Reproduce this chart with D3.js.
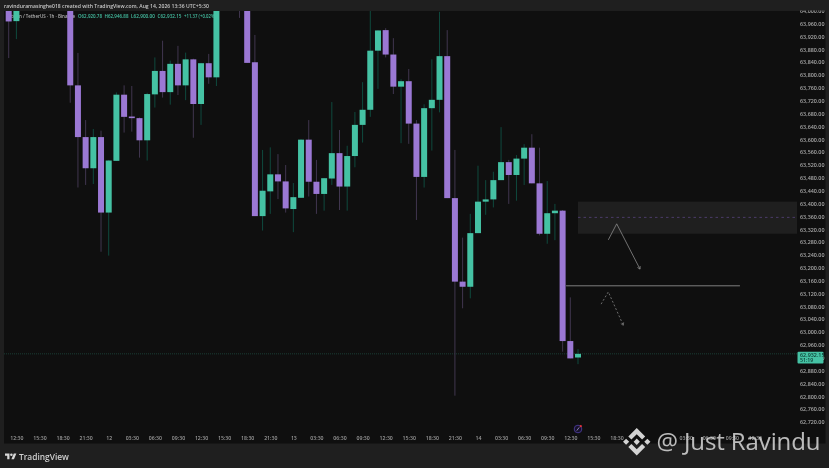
<!DOCTYPE html>
<html><head><meta charset="utf-8">
<script src="https://cdn.jsdelivr.net/npm/d3@7"></script>
<style>html,body{margin:0;padding:0;background:#1f1f1f}svg{display:block;filter:blur(.25px)}text{font-family:"Open Sans","Noto Sans",sans-serif}</style>
</head><body><div id="c"></div>
<script>
const slots=[0,1,8,9,10,11,12,13,14,15,16,17,18,19,20,21,22,23,24,25,26,27,30,31,32,33,34,35,36,37,38,39,40,41,42,43,44,45,46,47,48,49,50,51,52,53,54,55,56,57,58,59,60,61,62,63,64,65,66,67,68,69,70,71,72,73,74];
const opens=[64030,63968,64100,63768,63607,63510,63607,63372,63533,63739,63671,63666,63597,63740,63813,63747,63835,63768,63849,63710,63837,63793,64080,64080,63840,63361,63438,63491,63469,63383,63418,63599,63468,63430,63478,63557,63453,63548,63645,63692,63876,63940,63864,63764,63781,63649,63483,63697,63723,63859,63417,63157,63141,63308,63406,63413,63473,63529,63489,63540,63574,63463,63306,63370,63378,62972,62920.78];
const highs=[64060,64050,64150,63869,63660,63632,63627,63536,63746,63768,63766,63668,63745,63855,63907,63845,63891,63870,63851,63838,63866,64100,64120,64100,63925,63567,63575,63554,63520,63464,63600,63660,63536,63480,63716,63629,63580,63685,63778,64001,63940,63946,63915,63787,63819,63660,63709,63849,63997,63940,63567,63294,63368,63518,63473,63499,63638,63536,63551,63585,63616,63574,63470,63399,63380,63108,62946.88];
const lows=[63853,63912,63714,63450,63458,63461,63250,63238,63533,63621,63624,63543,63534,63699,63730,63708,63738,63722,63605,63645,63773,63766,63978,63838,63361,63316,63368,63414,63372,63311,63418,63422,63368,63378,63458,63380,63378,63513,63590,63670,63757,63855,63741,63588,63586,63349,63450,63565,63684,63417,62802,63074,63105,63308,63365,63388,63473,63399,63409,63458,63463,63301,63275,63286,62939,62918,62900];
const closes=[63967,64030,63768,63607,63510,63607,63372,63534,63739,63670,63666,63597,63741,63813,63747,63835,63768,63849,63710,63837,63793,64060,64040,63838,63361,63440,63491,63469,63385,63420,63599,63468,63430,63479,63557,63453,63548,63645,63692,63876,63939,63864,63764,63781,63649,63483,63697,63723,63859,63417,63157,63141,63308,63406,63413,63473,63529,63489,63540,63574,63463,63306,63370,63378,62972,62918,62932.15];
const priceTicks=d3.range(64000,62719,-40);
const timeSlots=[1,4,7,10,13,16,19,22,25,28,31,34,37,40,43,46,49,52,55,58,61,64,67,70,73,76,79,88,91,94,97];
const timeLabels=["12:30","15:30","18:30","21:30","12","03:30","06:30","09:30","12:30","15:30","18:30","21:30","13","03:30","06:30","09:30","12:30","15:30","18:30","21:30","14","03:30","06:30","09:30","12:30","15:30","18:30","03:30","06:30","09:30","12:30"];
const legendParts=["O62,920.78","H62,946.88","L62,900.00","C62,932.15","+11.37 (+0.02%)"];
const zoneSlots=[74,102.5], zonePrices=[63406,63306], zoneMid=63357;
const levelSlots=[72.45,95.05], levelPrice=63144;
const arrowSolid=[[77.94,63287],[79.03,63337],[82.06,63196]];
const arrowDashed=[[77,63087],[77.94,63125],[79.89,63021]];
const lastPrice=62932.15;

const W=829,H=468,bg="#1f1f1f",plot="#0f0f0f",up="#45c2a4",dn="#9b78d4",upW="#0f4a3e",dnW="#40364f";
const x=d3.scaleLinear().domain([0,74]).range([8.7,578]);
const y=d3.scaleLinear().domain([63960,62720]).range([23.7,422]);
const svg=d3.select("#c").append("svg").attr("width",W).attr("height",H);
svg.append("rect").attr("width",W).attr("height",H).attr("fill",bg);
svg.append("rect").attr("x",4).attr("y",11).attr("width",821.5).attr("height",432.5).attr("fill",plot);
const defs=svg.append("defs");
defs.append("clipPath").attr("id","cp").append("rect").attr("x",4).attr("y",11).attr("width",793).attr("height",418);

// legend
const lg=svg.append("g").attr("font-size",4.6).attr("font-weight",600);
lg.append("text").attr("x",7).attr("y",17.5).attr("fill","#b8b8b8").attr("textLength",68).attr("lengthAdjust","spacingAndGlyphs").text("Bitcoin / TetherUS · 1h · Binance");
const legendX=d3.scaleLinear().domain([0,4]).range([78,184]);
lg.selectAll(".p").data(legendParts).join("text").attr("class","p").attr("x",(d,i)=>legendX(i)).attr("y",17.5).attr("fill",up)
 .attr("textLength",(d,i)=>i<4?24:32).attr("lengthAdjust","spacingAndGlyphs").text(d=>d);

const g=svg.append("g").attr("clip-path","url(#cp)");
// drawings below candles
g.append("rect").attr("x",x(zoneSlots[0])).attr("width",x(zoneSlots[1])-x(zoneSlots[0]))
 .attr("y",y(zonePrices[0])).attr("height",y(zonePrices[1])-y(zonePrices[0])).attr("fill","#1f1f1f");
g.append("line").attr("x1",x(zoneSlots[0])).attr("x2",x(zoneSlots[1])).attr("y1",y(zoneMid)).attr("y2",y(zoneMid))
 .attr("stroke","#5d4788").attr("stroke-width",.7).attr("stroke-dasharray","2.5 3");
g.append("line").attr("x1",4).attr("x2",797).attr("y1",y(lastPrice)).attr("y2",y(lastPrice))
 .attr("stroke","#1d4a3f").attr("stroke-width",.8).attr("stroke-dasharray","1 1");
g.append("line").attr("x1",x(levelSlots[0])).attr("x2",x(levelSlots[1])).attr("y1",y(levelPrice)).attr("y2",y(levelPrice))
 .attr("stroke","#8a8a8a").attr("stroke-width",.9);
const ln=d3.line().x(d=>x(d[0])).y(d=>y(d[1]));
g.append("path").attr("d",ln(arrowSolid)).attr("fill","none").attr("stroke","#8a8a8a").attr("stroke-width",.8);
g.append("path").attr("d",ln(arrowDashed)).attr("fill","none").attr("stroke","#777").attr("stroke-width",.9).attr("stroke-dasharray","2 2");
function head(a,b,c){const p=[x(b[0]),y(b[1])],q=[x(a[0]),y(a[1])];const t=Math.atan2(q[1]-p[1],q[0]-p[0]);
 const l=3;const pts=[t+2.6,t-2.6].map(k=>[q[0]+l*Math.cos(k),q[1]+l*Math.sin(k)]);
 g.append("path").attr("d",`M${pts[0]}L${q}L${pts[1]}`).attr("fill","none").attr("stroke",c).attr("stroke-width",.8);}
head(arrowSolid[2],arrowSolid[1],"#8a8a8a");head(arrowDashed[2],arrowDashed[1],"#777");

const data=slots.map((s,i)=>({s,o:opens[i],h:highs[i],l:lows[i],c:closes[i]}));
g.selectAll(".w").data(data).join("line").attr("class","w")
 .attr("x1",d=>x(d.s)).attr("x2",d=>x(d.s)).attr("y1",d=>y(d.h)).attr("y2",d=>y(d.l))
 .attr("stroke",d=>d.c>=d.o?upW:dnW).attr("stroke-width",1);
g.selectAll(".b").data(data).join("rect").attr("class","b")
 .attr("x",d=>x(d.s)-3).attr("width",6)
 .attr("y",d=>y(Math.max(d.o,d.c))).attr("height",d=>Math.max(1,Math.abs(y(d.o)-y(d.c))))
 .attr("fill",d=>d.c>=d.o?up:dn);

// axes
const ya=svg.append("g").attr("transform","translate(797,0)").call(d3.axisRight(y).tickValues(priceTicks).tickFormat(d3.format(",.2f")).tickSize(0).tickPadding(3));
ya.select(".domain").remove();
ya.selectAll("text").attr("fill","#a8a8a8").attr("font-size",5.4).attr("font-family",'"Open Sans",sans-serif').attr("font-weight",600);
const xa=svg.append("g").attr("transform","translate(0,436)").call(d3.axisBottom(x).tickValues(timeSlots).tickFormat((d,i)=>timeLabels[i]).tickSize(0).tickPadding(0));
xa.select(".domain").remove();
xa.selectAll("text").attr("fill","#9c9c9c").attr("font-size",5.2).attr("font-family",'"Open Sans",sans-serif').attr("font-weight",600);

// price label
svg.append("rect").attr("x",797.5).attr("y",351.7).attr("width",26).attr("height",11.8).attr("rx",1).attr("fill",up);
svg.append("text").attr("x",800).attr("y",356.7).attr("font-size",5.4).attr("font-weight",600).attr("fill","#0c3a30").text("62,932.15");
svg.append("text").attr("x",800).attr("y",362).attr("font-size",5.2).attr("font-weight",600).attr("fill","#0c3a30").text("51:19");

// header, covers clipped top label
svg.append("rect").attr("width",W).attr("height",10.5).attr("fill",bg);
svg.append("text").attr("x",4).attr("y",7.6).attr("font-size",5.1).attr("font-weight",600).attr("fill","#c8c8c8")
 .text("ravinduramasinghe018 created with TradingView.com, Aug 14, 2026 13:36 UTC+5:30");

// event icon
svg.append("circle").attr("cx",578).attr("cy",429).attr("r",3.8).attr("fill","#16122a").attr("stroke","#4b3a9a").attr("stroke-width",.9);
svg.append("path").attr("d","M576.8 430.6L579.2 427.4").attr("stroke","#a99ad8").attr("stroke-width",.8);
svg.append("circle").attr("cx",580.8).attr("cy",426.2).attr("r",1.1).attr("fill","#e0323c");

// TradingView logo
svg.append("g").attr("transform","translate(5,452.2) scale(.32)").attr("fill","#d8d8d8").call(s=>{
 s.append("path").attr("d","M14 22H7V11H0V4h14v18zM28 22h-8l7.5-18h8L28 22z");
 s.append("circle").attr("cx",20).attr("cy",8).attr("r",4);});
svg.append("text").attr("x",19).attr("y",459.5).attr("font-size",8.4).attr("font-weight",600).attr("fill","#d0d0d0").text("TradingView");

// watermark
svg.append("g").attr("transform","translate(623,428) scale(.217)").attr("fill","#e4e4e4").attr("fill-opacity",.92)
 .append("path").attr("d","M38.73 53.2l24.59-24.58 24.6 24.6 14.3-14.31L63.32 0 24.43 38.9zM0 63.31l14.3-14.31 14.31 14.31-14.31 14.3zM38.73 73.41l24.59 24.59 24.6-24.6 14.31 14.29-38.9 38.91-38.91-38.88-.02-.02zM98 63.31l14.3-14.31 14.31 14.3-14.31 14.31zM77.83 63.3L63.32 48.78 52.59 59.51l-1.24 1.23-2.54 2.54 14.51 14.5 14.5-14.47z");
svg.append("text").attr("x",656.5).attr("y",450).attr("font-size",24).attr("font-weight",400).attr("fill","#e0e0e0").attr("fill-opacity",.82)
 .attr("textLength",164).text("@ Just Ravindu");
</script></body></html>
